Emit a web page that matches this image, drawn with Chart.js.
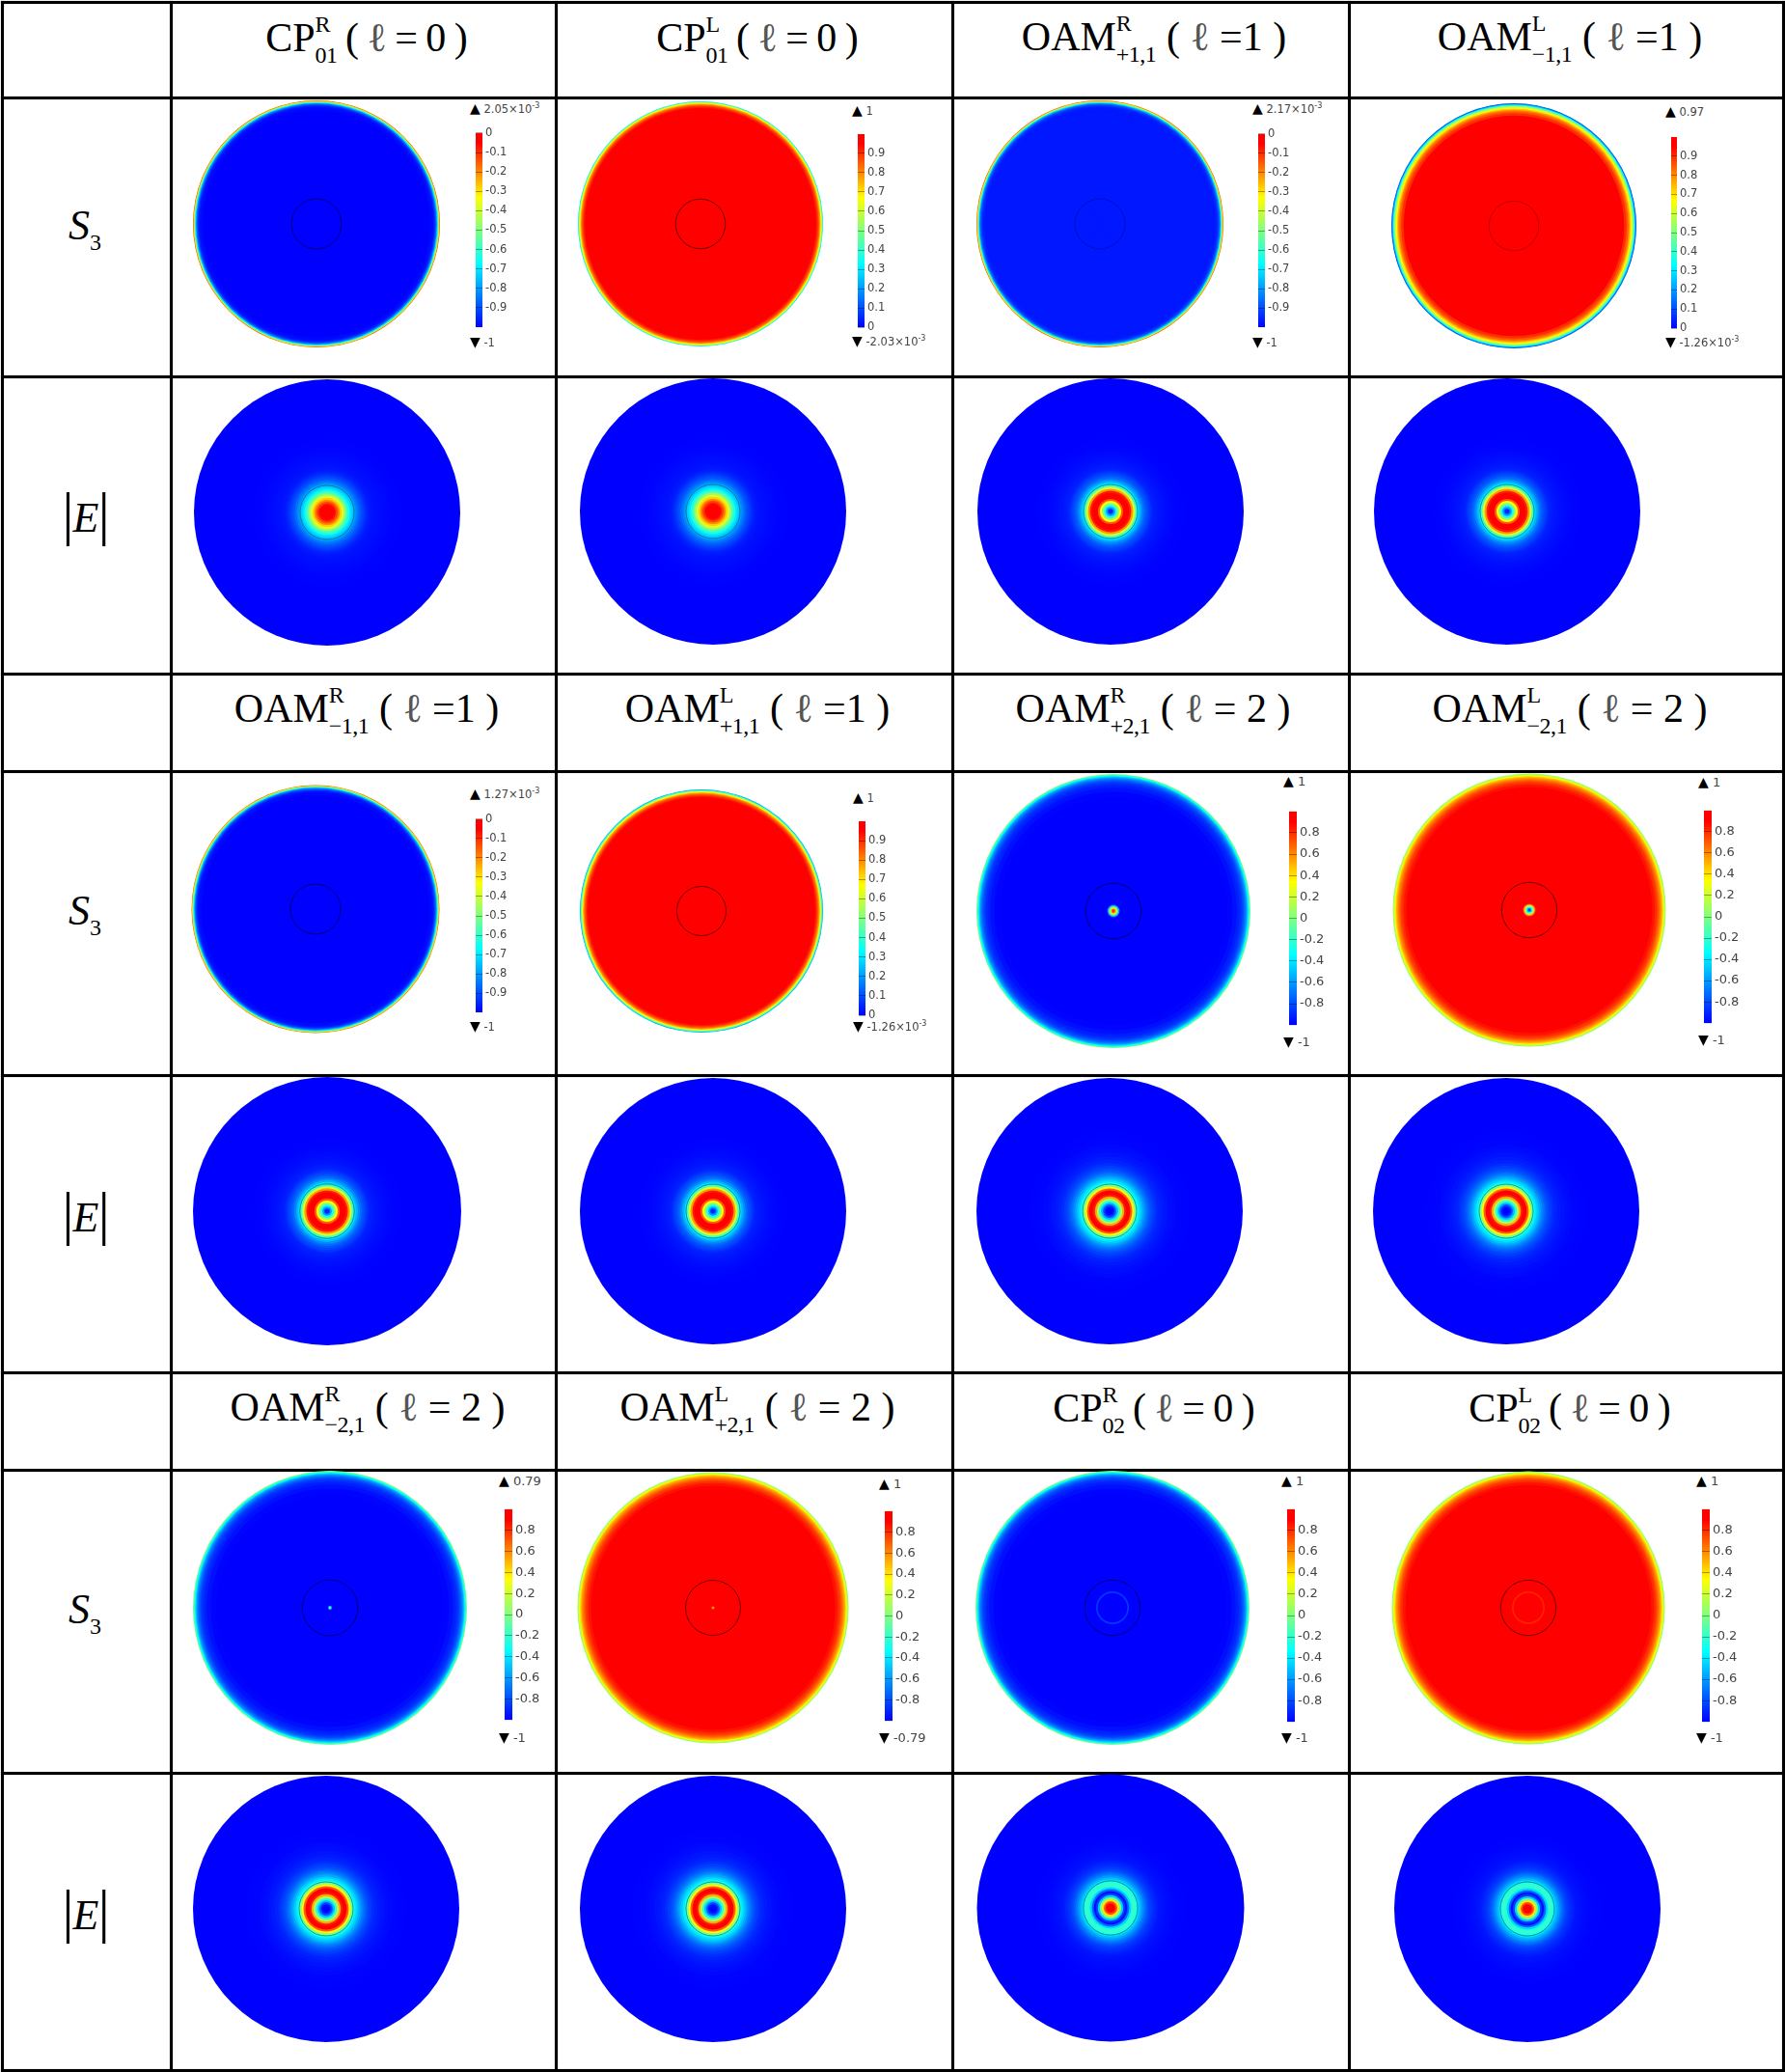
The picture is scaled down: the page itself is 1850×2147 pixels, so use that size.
<!DOCTYPE html>
<html>
<head>
<meta charset="utf-8">
<title>S3 and |E| mode profiles</title>
<script src="https://cdn.jsdelivr.net/npm/chart.js@4/dist/chart.umd.min.js"></script>
<style>
    html, body { margin: 0; background: #fff; }
    #page { position: relative; width: 1850px; height: 2147px; overflow: hidden; background: #fff; }
    #page canvas { position: absolute; }
    .field { filter: blur(0.6px); }
    .line { position: absolute; background: #000; box-shadow: 0 0 1px rgba(0,0,0,0.5); }
    .title { position: absolute; font: 42px/42px "Liberation Serif", serif; color: #000; white-space: pre; transform: translateX(-50%); }
    .title i { color: #555; font-style: normal; font-size: 42px; }
    .scr { display: inline-block; position: relative; line-height: 42px; }
    .scr .sb { position: relative; top: 12px; font-size: 24px; letter-spacing: -0.5px; }
    .scr .sp { position: absolute; left: 0; top: -5px; font-size: 24px; line-height: 24px; }
    .rowlabel { position: absolute; font: italic 44px/44px "Liberation Serif", serif; color: #000; transform: translateX(-50%); white-space: pre; }
    .rowlabel small { position: relative; top: 11px; font: normal 24px "Liberation Serif", serif; }
    .rowlabel .pipe { font-style: normal; font-size: 62px; font-weight: 100; position: relative; top: 2px; margin: 0 -1px; }
    .mark { position: absolute; font-family: "DejaVu Sans", sans-serif; color: #000; line-height: 12px; white-space: pre; }
    .mark b { font-size: 14px; font-weight: normal; }
    .mark span { color: #444; }
    .mark sup { font-size: 70%; line-height: 0; color: #444; }
</style>
</head>
<body>
<div id="page"></div>
<script>
// ---- table text ----
const modeNames = ['CP', 'CP', 'OAM', 'OAM', 'OAM', 'OAM', 'OAM', 'OAM', 'OAM', 'OAM', 'CP', 'CP'];
const modeSup = ['R', 'L', 'R', 'L', 'R', 'L', 'R', 'L', 'R', 'L', 'R', 'L'];
const modeSub = ['01', '01', '+1,1', '−1,1', '−1,1', '+1,1', '+2,1', '−2,1', '−2,1', '+2,1', '02', '02'];
const modeEll = [' = 0 )', ' = 0 )', ' =1 )', ' =1 )', ' =1 )', ' =1 )', ' = 2 )', ' = 2 )', ' = 2 )', ' = 2 )', ' = 0 )', ' = 0 )'];

// ---- colour bars: range, tick labels, end labels ----
const barMin = [-1, 0, -1, 0, -1, 0, -1, -1, -1, -1, -1, -1];
const barMax = [0, 1, 0, 1, 0, 1, 1, 1, 1, 1, 1, 1];
const ticksNeg = [0, -0.1, -0.2, -0.3, -0.4, -0.5, -0.6, -0.7, -0.8, -0.9];
const ticksPos = [0.9, 0.8, 0.7, 0.6, 0.5, 0.4, 0.3, 0.2, 0.1, 0];
const ticksWide = [0.8, 0.6, 0.4, 0.2, 0, -0.2, -0.4, -0.6, -0.8];
const barTicks = [ticksNeg, ticksPos, ticksNeg, ticksPos, ticksNeg, ticksPos, ticksWide, ticksWide, ticksWide, ticksWide, ticksWide, ticksWide];
const topLabels = ['2.05×10<sup>-3</sup>', '1', '2.17×10<sup>-3</sup>', '0.97', '1.27×10<sup>-3</sup>', '1', '1', '1', '0.79', '1', '1', '1'];
const bottomLabels = ['-1', '-2.03×10<sup>-3</sup>', '-1', '-1.26×10<sup>-3</sup>', '-1', '-1.26×10<sup>-3</sup>', '-1', '-1', '-1', '-0.79', '-1', '-1'];

// ---- S3 radial profiles, fibre edge at r = 10 ----
const rS3 = [10, 9.97, 9.93, 9.88, 9.82, 9.76, 9.7, 9.62, 9.54, 9.45, 9.35, 9.2, 9.0, 8.7, 8.3, 1.2, 1.08, 0.45, 0.35, 0.25, 0.15, 0.08];
const s3Panel1 = [-0.12, -0.25, -0.42, -0.58, -0.72, -0.82, -0.89, -0.94, -0.97, -0.985, -0.99, -1, -1, -1, -1, -1, -1, -1, -1, -1, -1, -1];
const s3Panel2 = [0.3, 0.42, 0.55, 0.66, 0.74, 0.8, 0.85, 0.89, 0.92, 0.95, 0.97, 0.98, 0.99, 1, 1, 1, 1, 1, 1, 1, 1, 1];
const s3Panel3 = [-0.12, -0.25, -0.42, -0.58, -0.72, -0.82, -0.88, -0.92, -0.95, -0.96, -0.97, -0.97, -0.97, -0.97, -0.97, -0.97, -0.97, -0.97, -0.97, -0.97, -0.97, -0.97];
const s3Panel4 = [0.1, 0.14, 0.22, 0.34, 0.44, 0.54, 0.61, 0.68, 0.74, 0.8, 0.85, 0.9, 0.95, 0.99, 1, 1, 1, 1, 1, 1, 1, 1];
const s3Panel5 = [-0.14, -0.27, -0.44, -0.6, -0.73, -0.82, -0.89, -0.94, -0.97, -0.985, -0.99, -1, -1, -1, -1, -1, -1, -1, -1, -1, -1, -1];
const s3Panel6 = [0.2, 0.3, 0.42, 0.55, 0.66, 0.74, 0.8, 0.85, 0.89, 0.93, 0.96, 0.98, 0.99, 1, 1, 1, 1, 1, 1, 1, 1, 1];
const s3Panel7 = [0, -0.1, -0.22, -0.35, -0.48, -0.58, -0.66, -0.73, -0.79, -0.84, -0.88, -0.92, -0.96, -0.99, -1, -1, -1, -0.6, -0.1, 0.4, 0.7, 0.8];
const s3Panel8 = [0.05, 0.1, 0.2, 0.3, 0.42, 0.5, 0.57, 0.63, 0.69, 0.75, 0.8, 0.86, 0.91, 0.96, 0.99, 1, 1, 0.6, 0.2, -0.3, -0.7, -0.85];
const s3Panel9 = [0, -0.1, -0.22, -0.35, -0.48, -0.58, -0.66, -0.73, -0.79, -0.84, -0.88, -0.92, -0.96, -0.99, -1, -1, -1, -1, -1, -1, -0.6, -0.1];
const s3Panel10 = [0.05, 0.1, 0.2, 0.3, 0.42, 0.5, 0.57, 0.63, 0.69, 0.75, 0.8, 0.86, 0.91, 0.96, 0.99, 1, 1, 1, 1, 1, 0.8, 0.5];
const s3Panel11 = [0, -0.1, -0.22, -0.35, -0.48, -0.58, -0.66, -0.73, -0.79, -0.84, -0.88, -0.92, -0.96, -0.99, -1, -0.85, -1, -1, -1, -1, -1, -1];
const s3Panel12 = [0.05, 0.1, 0.2, 0.3, 0.42, 0.5, 0.57, 0.63, 0.69, 0.75, 0.8, 0.86, 0.91, 0.96, 0.99, 0.82, 1, 1, 1, 1, 1, 1];
const s3Series = [s3Panel1, s3Panel2, s3Panel3, s3Panel4, s3Panel5, s3Panel6, s3Panel7, s3Panel8, s3Panel9, s3Panel10, s3Panel11, s3Panel12];

// ---- |E| radial profiles, normalised, fibre edge at r = 10 ----
const rE = [10, 6, 5.5, 5, 4.7, 4.4, 4.1, 3.85, 3.6, 3.4, 3.2, 3.05, 2.9, 2.75, 2.6, 2.45, 2.3, 2.15, 2, 1.85, 1.7, 1.55, 1.4, 1.25, 1.1, 0.95, 0.8, 0.65, 0.5, 0.35, 0.2];
const eFundamental = [0, 0, 0.002, 0.005, 0.008, 0.011, 0.015, 0.018, 0.022, 0.028, 0.036, 0.05, 0.07, 0.09, 0.11, 0.14, 0.17, 0.21, 0.26, 0.3, 0.36, 0.44, 0.53, 0.63, 0.72, 0.81, 0.88, 0.94, 0.98, 1, 1];
const eOrder1 = [0, 0, 0.002, 0.005, 0.009, 0.013, 0.018, 0.024, 0.03, 0.038, 0.048, 0.07, 0.09, 0.11, 0.14, 0.18, 0.23, 0.29, 0.42, 0.62, 0.78, 0.92, 0.98, 1, 0.96, 0.85, 0.67, 0.52, 0.36, 0.2, 0.05];
const eOrder2 = [0, 0.002, 0.005, 0.01, 0.016, 0.023, 0.034, 0.044, 0.06, 0.08, 0.1, 0.12, 0.15, 0.18, 0.22, 0.26, 0.3, 0.36, 0.5, 0.68, 0.85, 0.97, 1, 0.92, 0.76, 0.56, 0.38, 0.24, 0.1, 0.02, 0];
const eRadial2 = [0, 0, 0.002, 0.005, 0.009, 0.013, 0.018, 0.025, 0.035, 0.05, 0.065, 0.08, 0.1, 0.13, 0.16, 0.2, 0.24, 0.29, 0.38, 0.4, 0.38, 0.28, 0.13, 0.02, 0.08, 0.27, 0.5, 0.7, 0.87, 0.97, 1];
const eSeries = [eFundamental, eFundamental, eOrder1, eOrder1, eOrder1, eOrder1, eOrder2, eOrder2, eOrder2, eOrder2, eRadial2, eRadial2];

// core boundary radius, same fibre units
const coreRadius = 2.03;

// colour map stops: position, colour
const mapStops = [[0, '#0000ff'], [0.33, '#00ffff'], [0.5, '#80ff80'], [0.67, '#ffff00'], [0.95, '#ff0000'], [1, '#ff0000']];

// ---- layout only ----
const gridX = [2, 177, 576, 987, 1398, 1848];
const gridY = [2, 101, 390, 698, 799, 1114, 1422, 1523, 1837, 2145];
const titleX = [380, 785, 1196, 1627, 380, 785, 1195, 1627, 381, 785, 1196, 1627];
const titleBase = [53, 53, 52, 52, 748, 748, 748, 748, 1472, 1472, 1473, 1473];
// cx, cy, radius
const s3Disc = [[328, 232, 128], [726, 232, 127], [1139.5, 231.5, 128], [1569, 233.5, 127],
    [327, 942, 128.5], [726.5, 944, 126], [1154, 943.5, 142], [1585, 942.5, 141.5],
    [342, 1666, 142], [739, 1666, 140.5], [1153, 1666, 142], [1584, 1666, 141.5]];
const eDisc = [[339, 530.5, 138], [739, 530, 138], [1151, 530, 138], [1561.5, 530, 138],
    [339, 1255, 139], [739, 1255, 138], [1150, 1255, 138], [1560.5, 1255, 138],
    [338, 1978, 138], [739, 1978, 138], [1150.5, 1977, 138.5], [1582.7, 1978, 138]];
// bar left, bar top, bar bottom, bar width, upper marker y, lower marker y, font size
const barBox = [[493, 137, 340, 7, 112, 354, 11.5], [889, 138, 340, 7, 114, 353, 11.5], [1304, 138, 340, 7, 112, 354, 11.5], [1732, 141, 341, 6, 115, 354, 11.5],
    [493, 848, 1050, 7, 822, 1063, 11.5], [890, 850, 1053, 7, 826, 1063, 11.5], [1336, 839, 1064, 8, 809, 1079, 13], [1766, 838, 1062, 8, 810, 1077, 13],
    [523, 1562, 1784, 8, 1534, 1800, 13], [917, 1564, 1785, 8, 1537, 1800, 13], [1334, 1562, 1786, 8, 1534, 1800, 13], [1764, 1562, 1786, 8, 1534, 1800, 13]];
const s3LabelRows = [232, 942, 1666];
const eLabelRows = [530, 1255, 1978];

const page = document.getElementById('page');

function addHtml(cls, style, html) {
    const el = document.createElement('div');
    el.className = cls;
    Object.assign(el.style, style);
    el.innerHTML = html;
    page.appendChild(el);
    return el;
}

function addCanvas(cls, left, top, width, height) {
    const canvas = document.createElement('canvas');
    canvas.className = cls;
    canvas.width = width;
    canvas.height = height;
    canvas.style.left = left + 'px';
    canvas.style.top = top + 'px';
    canvas.style.width = width + 'px';
    canvas.style.height = height + 'px';
    page.appendChild(canvas);
    return canvas;
}

function hex(c) {
    return [parseInt(c.slice(1, 3), 16), parseInt(c.slice(3, 5), 16), parseInt(c.slice(5, 7), 16)];
}

function mapColor(t) {
    t = Math.min(1, Math.max(0, t));
    for (let i = 1; i < mapStops.length; i++) {
        if (t <= mapStops[i][0]) {
            const f = (t - mapStops[i - 1][0]) / (mapStops[i][0] - mapStops[i - 1][0]);
            const a = hex(mapStops[i - 1][1]);
            const b = hex(mapStops[i][1]);
            return `rgb(${a.map((v, k) => Math.round(v + (b[k] - v) * f)).join(',')})`;
        }
    }
    return mapStops[mapStops.length - 1][1];
}

// each radial band is one point at the centre, sized through the x scale
function bandDataset(radius, color, line) {
    return {
        data: [{ x: 0, y: 0 }],
        clip: false,
        pointStyle: 'circle',
        pointBackgroundColor: line ? 'transparent' : color,
        pointBorderColor: line ? color : 'transparent',
        pointBorderWidth: line ? 1 : 0,
        pointRadius: ctx => {
            const x = ctx.chart.scales.x;
            return Math.abs(x.getPixelForValue(radius) - x.getPixelForValue(0));
        }
    };
}

function drawDisc(disc, radii, values, lo, hi, coreColor) {
    const [cx, cy, r] = disc;
    const span = 10.4; // axis half range, edge sits at 10
    const half = r * span / 10;
    const box = Math.ceil(half) * 2;
    const canvas = addCanvas('field', Math.round(cx) - box / 2, Math.round(cy) - box / 2, box, box);
    // first dataset is painted last, so the smallest band goes first
    const datasets = [bandDataset(coreRadius, coreColor, true)];
    for (let i = radii.length - 1; i >= 0; i--) {
        datasets.push(bandDataset(radii[i], mapColor((values[i] - lo) / (hi - lo)), false));
    }
    const range = span * box / (2 * half);
    const axis = { type: 'linear', display: false, min: -range, max: range };
    new Chart(canvas, {
        type: 'scatter',
        data: { datasets: datasets },
        options: {
            responsive: false,
            animation: false,
            events: [],
            layout: { padding: 0 },
            plugins: { legend: { display: false }, tooltip: { enabled: false } },
            scales: { x: axis, y: { ...axis } }
        }
    });
}

function drawColorBar(i) {
    const [left, top, bottom, width, , , fontSize] = barBox[i];
    const pad = 9;
    const labelRoom = 42;
    const canvas = addCanvas('bar', left, top - pad, width + labelRoom, bottom - top + pad * 2);
    new Chart(canvas, {
        type: 'bar',
        data: {
            labels: ['S3'],
            datasets: [{
                data: [[barMin[i], barMax[i]]],
                barPercentage: 1,
                categoryPercentage: 1,
                backgroundColor: ctx => {
                    const area = ctx.chart.chartArea;
                    if (!area) return '#0000ff';
                    const g = ctx.chart.ctx.createLinearGradient(0, area.bottom, 0, area.top);
                    mapStops.forEach(s => g.addColorStop(s[0], s[1]));
                    return g;
                }
            }]
        },
        options: {
            responsive: false,
            animation: false,
            events: [],
            layout: { padding: { top: pad, bottom: pad } },
            plugins: { legend: { display: false }, tooltip: { enabled: false } },
            scales: {
                x: { display: false },
                y: {
                    position: 'right',
                    min: barMin[i],
                    max: barMax[i],
                    afterBuildTicks: axis => { axis.ticks = barTicks[i].map(v => ({ value: v })); },
                    afterFit: axis => { axis.width = labelRoom; },
                    border: { display: false },
                    grid: { drawTicks: false, color: 'rgba(0,0,0,0.35)', z: 1 },
                    ticks: {
                        autoSkip: false,
                        padding: 3,
                        color: '#444',
                        font: { family: 'DejaVu Sans', size: fontSize },
                        callback: v => String(v)
                    }
                }
            }
        }
    });
}

function drawMarkers(i) {
    const [left, , , , upperY, lowerY, fontSize] = barBox[i];
    const size = fontSize + 'px';
    addHtml('mark', { left: (left - 6) + 'px', top: (upperY - 6) + 'px', fontSize: size }, `<b>▲</b><span> ${topLabels[i]}</span>`);
    addHtml('mark', { left: (left - 6) + 'px', top: (lowerY - 6) + 'px', fontSize: size }, `<b>▼</b><span> ${bottomLabels[i]}</span>`);
}

// table rules
gridX.forEach(x => addHtml('line', { left: (x - 1) + 'px', top: '1px', width: '3px', height: '2146px' }, ''));
gridY.forEach(y => addHtml('line', { left: '1px', top: (y - 1) + 'px', width: '1849px', height: '3px' }, ''));

// column heads
modeNames.forEach((name, i) => {
    addHtml('title', { left: titleX[i] + 'px', top: (titleBase[i] - 35) + 'px', wordSpacing: name === 'CP' ? '-2px' : '0' },
        `${name}<span class="scr"><span class="sb">${modeSub[i]}</span><span class="sp">${modeSup[i]}</span></span> ( <i>ℓ</i>${modeEll[i]}`);
});

// row heads
s3LabelRows.forEach(y => addHtml('rowlabel', { left: '88px', top: (y - 20) + 'px' }, 'S<small>3</small>'));
eLabelRows.forEach(y => addHtml('rowlabel', { left: '89px', top: (y - 22) + 'px' }, '<span class="pipe">|</span>E<span class="pipe">|</span>'));

// panels
s3Series.forEach((values, i) => {
    const blue = barMax[i] === 0 || values[14] < 0;
    const faint = i === 2 || i === 3;
    const core = blue ? (faint ? 'rgba(0,0,90,0.35)' : 'rgba(0,0,60,0.7)') : (faint ? 'rgba(90,0,0,0.4)' : 'rgba(50,0,0,0.7)');
    drawDisc(s3Disc[i], rS3, values, barMin[i], barMax[i], core);
    drawColorBar(i);
    drawMarkers(i);
});
eSeries.forEach((values, i) => {
    drawDisc(eDisc[i], rE, values, 0, 1, 'rgba(0,90,90,0.55)');
});
</script>
</body>
</html>
